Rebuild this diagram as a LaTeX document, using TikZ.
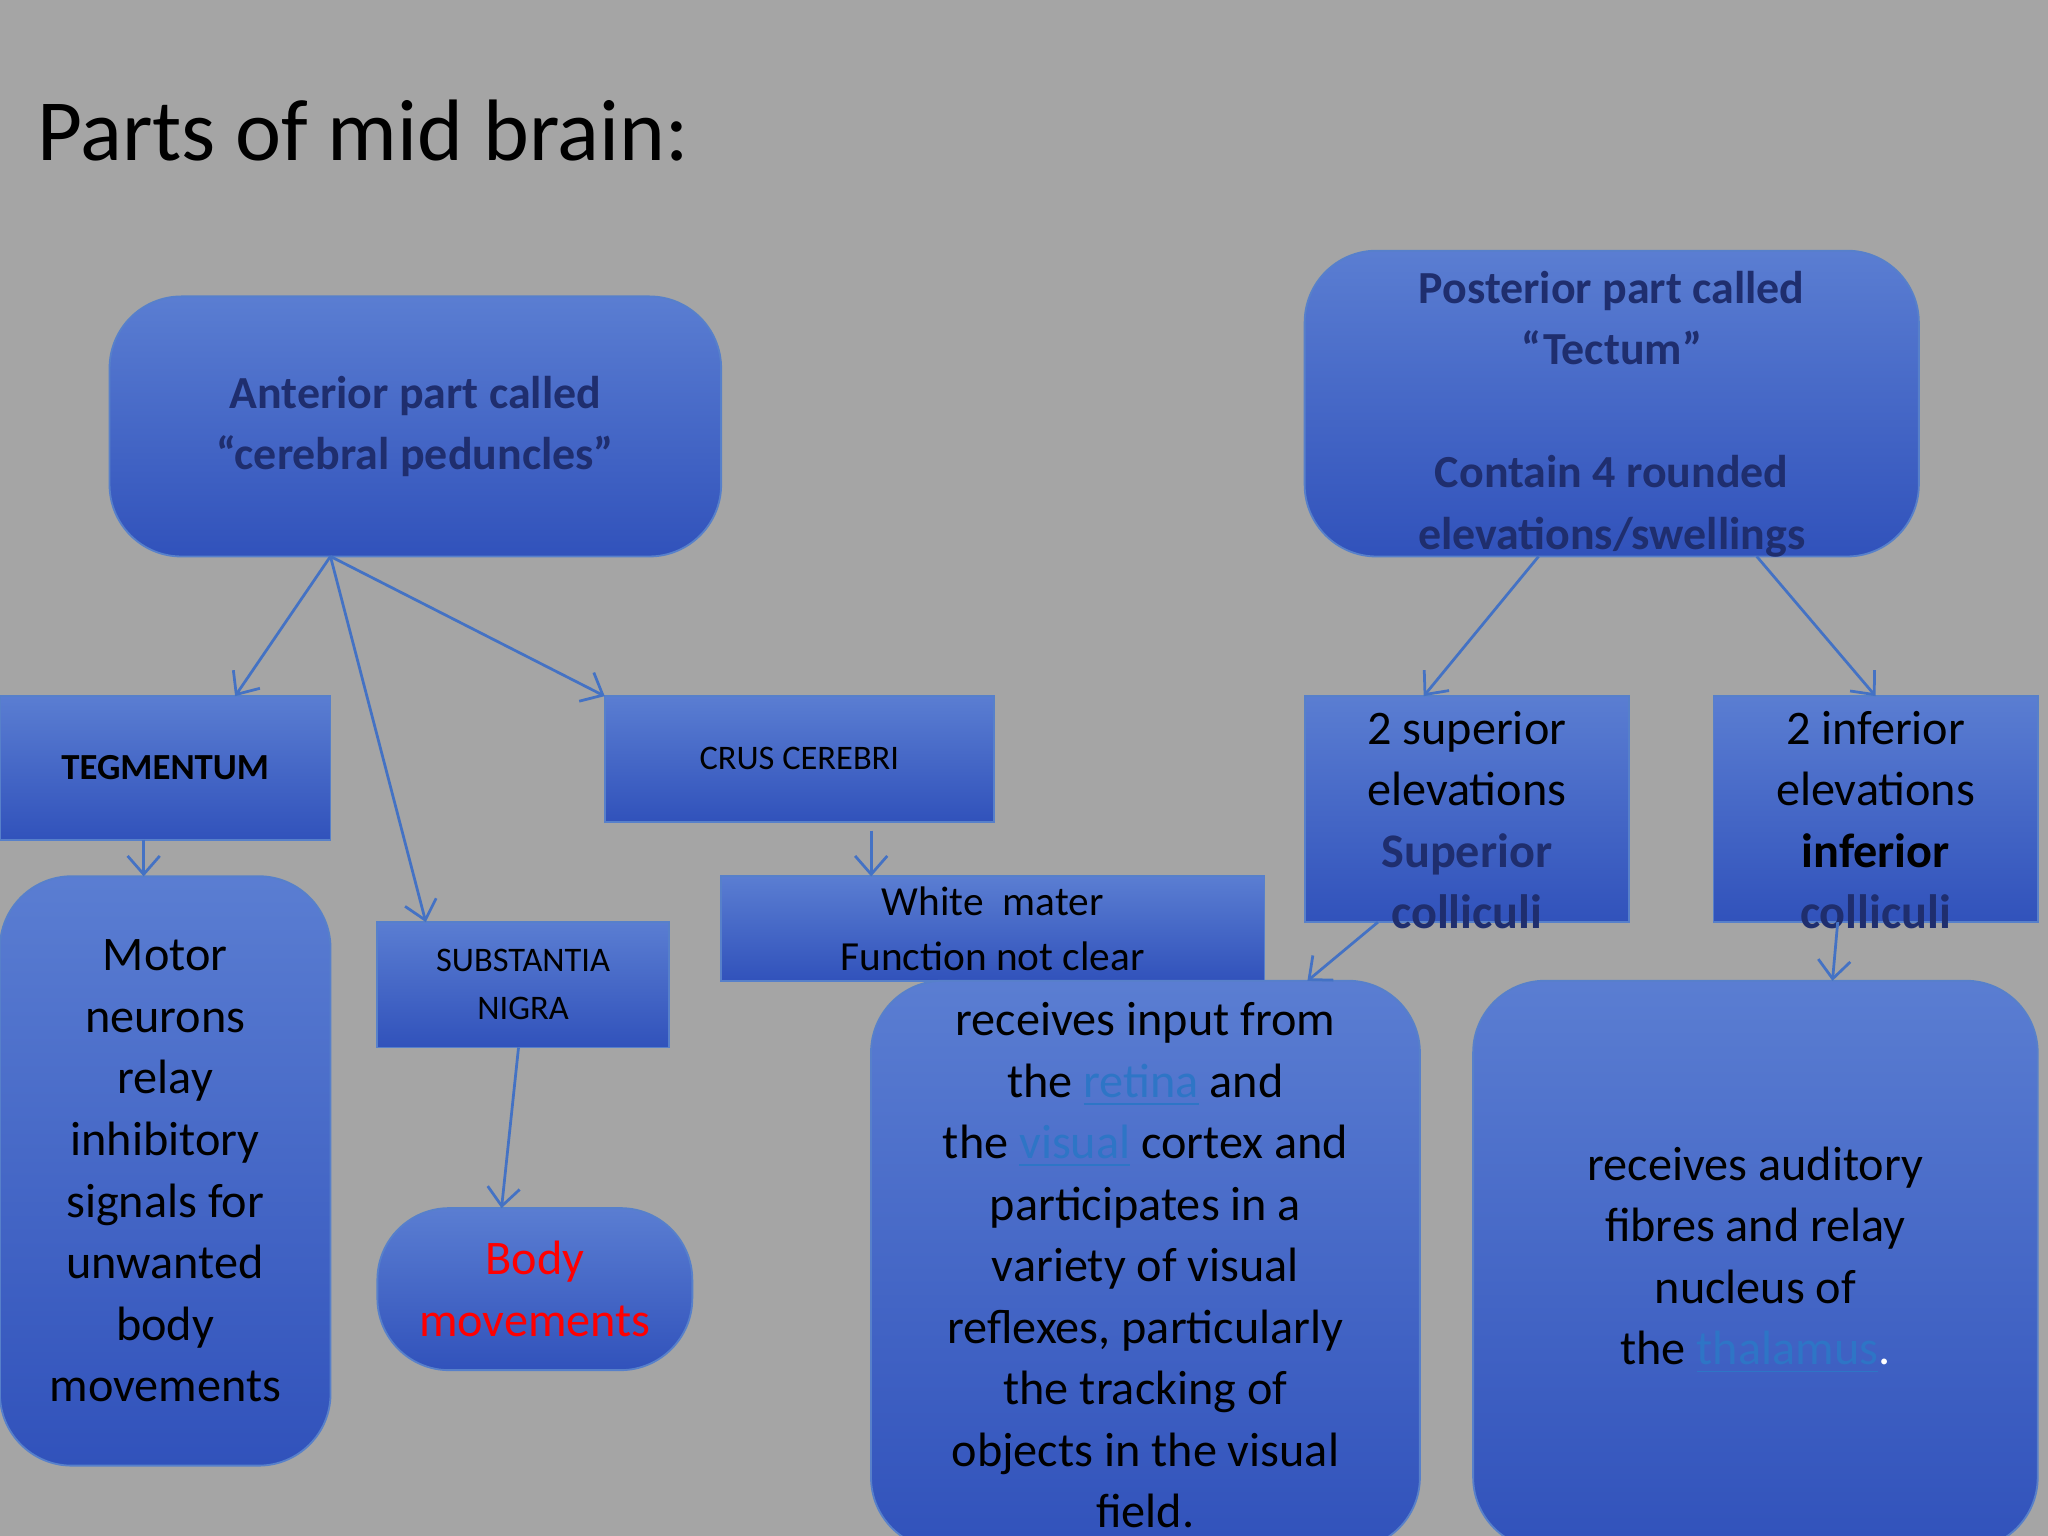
\documentclass[tikz,border=0pt]{standalone}
\usepackage{fontspec}
\setmainfont{Carlito}
\usetikzlibrary{arrows.meta}
\definecolor{bg}{HTML}{A5A5A5}
\definecolor{navy}{HTML}{1F2E6E}
\definecolor{lnk}{HTML}{2E75C6}
\definecolor{arr}{HTML}{4472C4}
\newcommand{\lk}[1]{\textcolor{lnk}{\underline{#1}}}
\begin{document}
\begin{tikzpicture}[x=0.01cm,y=-0.01cm,
  box/.style={draw=arr!90!white,top color=blue!10!arr!85!white,bottom color=arr!80!blue!90!black,inner sep=0pt,align=center},
  rbox/.style={box,rounded corners=0.55cm},
  hdr/.style={text=navy,font=\fontsize{10}{13.4}\selectfont\bfseries},
  big/.style={text=black,font=\fontsize{10.5}{13.4}\selectfont},
  sm/.style={text=black,font=\fontsize{7.5}{10.5}\selectfont},
  ar/.style={draw=arr,line width=0.6pt,-{Straight Barb[length=4pt,width=7pt]}}]
\fill[bg] (0,0) rectangle (1568,1176);
\useasboundingbox (0,0) rectangle (1568,1176);
\node[anchor=west,font=\fontsize{19}{22}\selectfont] (title) at (16,100) {Parts of mid brain:};
% boxes
\node[rbox,minimum width=4.68cm,minimum height=1.99cm,hdr] (ant) at (318,326.5) {Anterior part called\\``cerebral peduncles''};
\node[rbox,minimum width=4.70cm,minimum height=2.34cm] (post) at (1234,309) {};
\node[hdr,anchor=north,align=center] (posttxt) at (1234,195) {Posterior part called\\``Tectum''\\[13.4pt]Contain 4 rounded\\elevations/swellings};
\node[box,minimum width=2.53cm,minimum height=1.10cm,text=black,font=\fontsize{8}{10}\selectfont\bfseries] (teg) at (126.5,588) {TEGMENTUM};
\node[box,minimum width=2.98cm,minimum height=0.96cm,sm] (crus) at (612,581) {CRUS CEREBRI};
\node[box,minimum width=2.48cm,minimum height=1.73cm] (sup) at (1123,619.5) {};
\node[big,anchor=north,align=center] (suptxt) at (1123,532) {2 superior\\elevations\\\textcolor{navy}{\bfseries Superior}\\\textcolor{navy}{\bfseries colliculi}};
\node[box,minimum width=2.48cm,minimum height=1.73cm] (inf) at (1436,619.5) {};
\node[big,anchor=north,align=center] (inftxt) at (1436,532) {2 inferior\\elevations\\\textbf{inferior}\\\textcolor{navy}{\bfseries colliculi}};
\node[rbox,minimum width=2.53cm,minimum height=4.51cm,big] (motor) at (126.5,896.5) {Motor\\neurons\\relay\\inhibitory\\signals for\\unwanted\\body\\movements};
\node[box,minimum width=2.23cm,minimum height=0.96cm,sm] (sn) at (400.5,754) {SUBSTANTIA\\NIGRA};
\node[box,minimum width=4.16cm,minimum height=0.80cm,big,font=\fontsize{9}{12}\selectfont] (wm) at (760,711) {White\ \ mater\\Function not clear};
\node[rbox,minimum width=2.41cm,minimum height=1.24cm,text=red,font=\fontsize{10.5}{13.4}\selectfont] (body) at (409.5,987) {Body\\movements};
\node[rbox,minimum width=4.20cm,minimum height=4.35cm] (vis) at (877,968.5) {};
\node[big,anchor=north,align=center] (vistxt) at (877,755) {receives input from\\the \lk{retina} and\\the \lk{visual} cortex and\\participates in a\\variety of visual\\reflexes, particularly\\the tracking of\\objects in the visual\\field.};
\node[rbox,minimum width=4.32cm,minimum height=4.35cm] (aud) at (1344,968.5) {};
\node[big,align=center] (audtxt) at (1344,965) {receives auditory\\fibres and relay\\nucleus of\\the \lk{thalamus}\textcolor{white}{.}};
% connectors
\coordinate (a0) at (253,426);
\draw[ar] (a0) -- (180,533);
\draw[ar] (a0) -- (326,706);
\draw[ar] (a0) -- (463,533);
\draw[ar] (110,643) -- (110,671);
\draw[ar] (667,636) -- (667,671);
\draw[ar] (397,802) -- (384,925);
\draw[ar] (1178,426) -- (1090,533);
\draw[ar] (1345,426) -- (1436,533);
\draw[ar] (1055,706) -- (1001,751);
\draw[ar] (1407,706) -- (1403,751);
\end{tikzpicture}
\end{document}
